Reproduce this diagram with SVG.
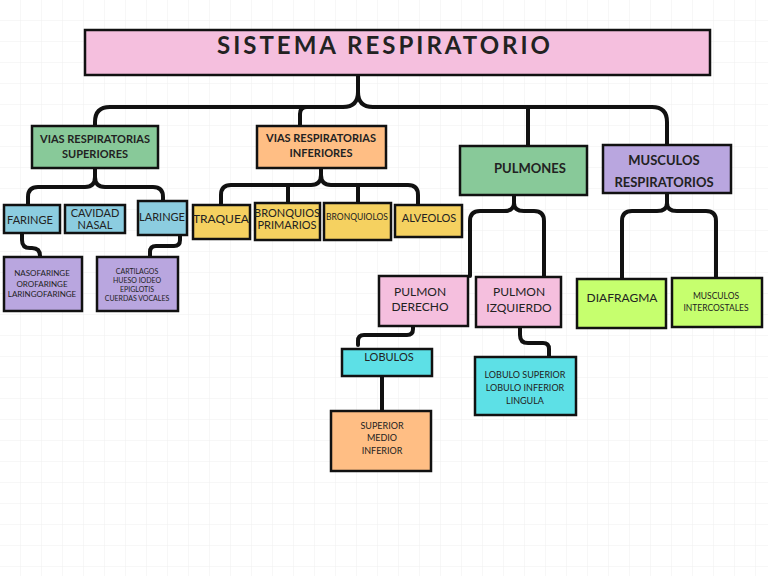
<svg xmlns="http://www.w3.org/2000/svg" width="768" height="576" viewBox="0 0 768 576">
<defs>
<pattern id="grid" width="21" height="21" patternUnits="userSpaceOnUse"><path d="M21 0V21H0" fill="none" stroke="#efefef" stroke-width="1"/></pattern>
<style>
.b{stroke:#111;stroke-width:2.5}
.c path{fill:none;stroke:#111;stroke-width:4;stroke-linecap:round;stroke-linejoin:round}
text{font-family:Lato,"Open Sans","Liberation Sans",sans-serif;fill:#222;text-anchor:middle}
.h{font-weight:bold;font-size:11px}
.n{font-size:11px}
.s{font-size:8px}
</style>
</defs>
<rect width="768" height="576" fill="#fff"/>
<rect width="768" height="576" fill="url(#grid)"/>
<g class="c" id="connectors">
<path d="M358 75V92Q358 107 343 107H110Q95 107 95 122V126M358 92Q358 107 373 107H652Q667 107 667 122V145M300 126V114Q300 107 307 107M528 107Q528 107 528 120V146"/>
<path d="M95 168V177Q95 187 85 187H38Q28 187 28 197V205M95 177Q95 187 105 187H153Q163 187 163 197V201"/>
<path d="M22 233V240Q22 248 30 248H32Q40 248 40 256V257M180 235V240Q180 246 174 246H156Q150 246 150 252V257"/>
<path d="M321 168V175Q321 185 311 185H231Q221 185 221 195V205M321 175Q321 185 331 185H408Q418 185 418 195V205M288 185V203M358 185V203"/>
<path d="M514 195V203Q514 211 504 211H480Q470 211 470 221V276M514 203Q514 211 524 211H534Q544 211 544 221V277"/>
<path d="M413 326V329Q413 335 407 335H364Q358 335 358 341V345M382 376V411M520 327V335Q520 343 528 343H543Q549 343 549 349V357"/>
<path d="M667 193V203Q667 211 657 211H632Q622 211 622 221V279M667 203Q667 211 677 211H706Q716 211 716 221V277"/>
</g>
<g id="title"><rect class="b" x="85" y="30" width="625" height="45" fill="#f5bfde"/><text x="385" y="54" style="font-size:24px;font-weight:bold;letter-spacing:3px">SISTEMA RESPIRATORIO</text></g>
<g id="sup"><rect class="b" x="32" y="126" width="126" height="42" fill="#88c999"/><text class="h" x="95" y="143">VIAS RESPIRATORIAS</text><text class="h" x="95" y="158">SUPERIORES</text></g>
<g id="inf"><rect class="b" x="257" y="126" width="129" height="42" fill="#ffbe84"/><text class="h" x="321" y="142">VIAS RESPIRATORIAS</text><text class="h" x="321" y="157">INFERIORES</text></g>
<g id="pulmones"><rect class="b" x="460" y="146" width="127" height="49" fill="#88c999"/><text x="530" y="173" style="font-size:13px;font-weight:bold">PULMONES</text></g>
<g id="musculos"><rect class="b" x="603" y="145" width="128" height="48" fill="#b9a6df"/><text x="664" y="165" style="font-size:13px;font-weight:bold">MUSCULOS</text><text x="664" y="187" style="font-size:13px;font-weight:bold">RESPIRATORIOS</text></g>
<g id="faringe"><rect class="b" x="4" y="205" width="56" height="28" fill="#8ccde0"/><text class="n" x="30" y="224">FARINGE</text></g>
<g id="cavidad"><rect class="b" x="65" y="205" width="60" height="28" fill="#8ccde0"/><text class="n" x="95" y="217">CAVIDAD</text><text class="n" x="95" y="229">NASAL</text></g>
<g id="laringe"><rect class="b" x="138" y="201" width="49" height="34" fill="#8ccde0"/><text class="n" x="162" y="221">LARINGE</text></g>
<g id="naso"><rect class="b" x="4" y="257" width="78" height="54" fill="#b9a6df"/><text class="s" x="42" y="276">NASOFARINGE</text><text class="s" x="42" y="287">OROFARINGE</text><text class="s" x="42" y="297">LARINGOFARINGE</text></g>
<g id="cartilagos"><rect class="b" x="97" y="257" width="81" height="54" fill="#b9a6df"/><text style="font-size:7px" x="137" y="274">CARTILAGOS</text><text style="font-size:7px" x="137" y="283">HUESO IODEO</text><text style="font-size:7px" x="137" y="292">EPIGLOTIS</text><text style="font-size:7px" x="137" y="301">CUERDAS VOCALES</text></g>
<g id="traquea"><rect class="b" x="193" y="205" width="57" height="34" fill="#f5d160"/><text x="221" y="223" style="font-size:12px">TRAQUEA</text></g>
<g id="bronquios"><rect class="b" x="255" y="203" width="65" height="37" fill="#f5d160"/><text class="n" x="287" y="217">BRONQUIOS</text><text class="n" x="287" y="229">PRIMARIOS</text></g>
<g id="bronquiolos"><rect class="b" x="324" y="203" width="67" height="37" fill="#f5d160"/><text x="357" y="220" style="font-size:8.5px">BRONQUIOLOS</text></g>
<g id="alveolos"><rect class="b" x="395" y="205" width="67" height="32" fill="#f5d160"/><text class="n" x="429" y="222">ALVEOLOS</text></g>
<g id="pder"><rect class="b" x="379" y="276" width="89" height="50" fill="#f5bfde"/><text x="420" y="296" style="font-size:12px">PULMON</text><text x="420" y="311" style="font-size:12px">DERECHO</text></g>
<g id="pizq"><rect class="b" x="476" y="277" width="85" height="50" fill="#f5bfde"/><text x="519" y="296" style="font-size:12px">PULMON</text><text x="519" y="312" style="font-size:12px">IZQUIERDO</text></g>
<g id="lobulos"><rect class="b" x="342" y="349" width="90" height="27" fill="#5de0e6"/><text class="n" x="389" y="361">LOBULOS</text></g>
<g id="superior"><rect class="b" x="331" y="411" width="100" height="60" fill="#ffbe84"/><text class="s" x="382" y="429" style="font-size:9px">SUPERIOR</text><text x="382" y="441" style="font-size:9px">MEDIO</text><text x="382" y="454" style="font-size:9px">INFERIOR</text></g>
<g id="lobsup"><rect class="b" x="475" y="357" width="101" height="58" fill="#5de0e6"/><text x="525" y="378" style="font-size:9px">LOBULO SUPERIOR</text><text x="525" y="391" style="font-size:9px">LOBULO INFERIOR</text><text x="525" y="404" style="font-size:9px">LINGULA</text></g>
<g id="diafragma"><rect class="b" x="577" y="279" width="89" height="49" fill="#c6ff6e"/><text x="622" y="302" style="font-size:12px">DIAFRAGMA</text></g>
<g id="intercostales"><rect class="b" x="672" y="278" width="90" height="49" fill="#c6ff6e"/><text x="716" y="299" style="font-size:8.5px">MUSCULOS</text><text x="716" y="311" style="font-size:8.5px">INTERCOSTALES</text></g>
</svg>
